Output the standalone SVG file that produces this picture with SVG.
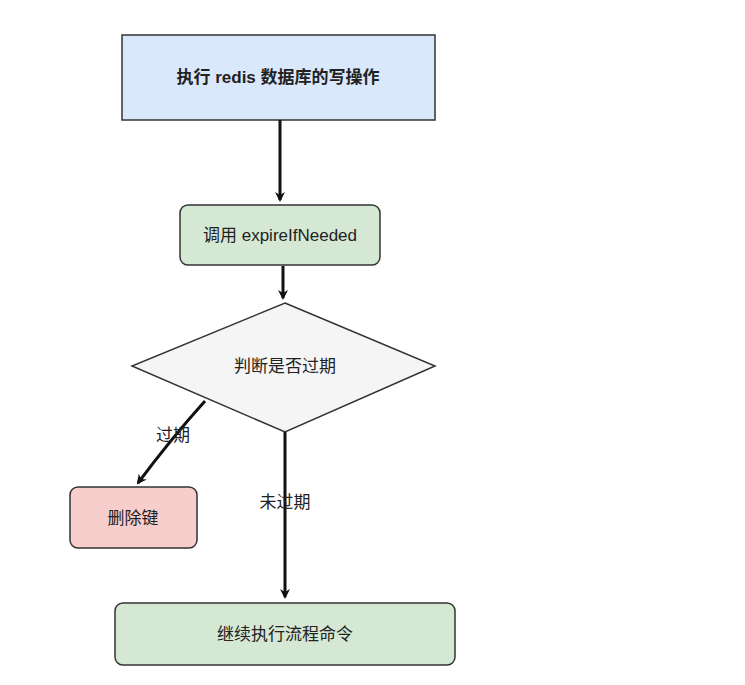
<svg xmlns="http://www.w3.org/2000/svg" width="745" height="685" viewBox="0 0 745 685">
<defs>
<marker id="ah" markerWidth="10" markerHeight="10" refX="8" refY="5" orient="auto" markerUnits="userSpaceOnUse" viewBox="0 0 10 10"><path d="M0,0 L10,5 L0,10 L3,5 Z" fill="#111"/></marker>
</defs>
<style>
text{font-family:"Liberation Sans","Noto Sans CJK SC",sans-serif;font-size:17px;fill:#222;text-anchor:middle;dominant-baseline:middle}
.e{stroke:#111;stroke-width:3;fill:none;marker-end:url(#ah)}
.n{stroke:#333;stroke-width:1.5}
</style>
<rect width="745" height="685" fill="#fff"/>
<g id="n1"><rect class="n" x="122" y="35" width="313" height="85" fill="#dae8fc"/><text x="278" y="79" font-weight="bold">执行 redis 数据库的写操作</text></g>
<g id="n2"><rect class="n" x="180" y="205" width="200" height="60" rx="8" fill="#d5e8d4"/><text x="280" y="237">调用 expireIfNeeded</text></g>
<g id="n3"><polygon class="n" points="285,303 435,366 285,432 132,366" fill="#f5f5f5" stroke="#777"/><text x="285" y="368">判断是否过期</text></g>
<g id="n4"><rect class="n" x="70" y="487" width="127" height="61" rx="8" fill="#f8cecc"/><text x="133" y="520">删除键</text></g>
<g id="n5"><rect class="n" x="115" y="603" width="340" height="62" rx="8" fill="#d5e8d4"/><text x="285" y="636">继续执行流程命令</text></g>
<g id="edges">
<path class="e" d="M280,120 L280,200"/>
<path class="e" d="M283,266 L283,298"/>
<path class="e" d="M205,401 Q170,440 138,483"/>
<path class="e" d="M285,432 L285,597"/>
<text x="173" y="437">过期</text>
<text x="285" y="504">未过期</text>
</g>
</svg>
